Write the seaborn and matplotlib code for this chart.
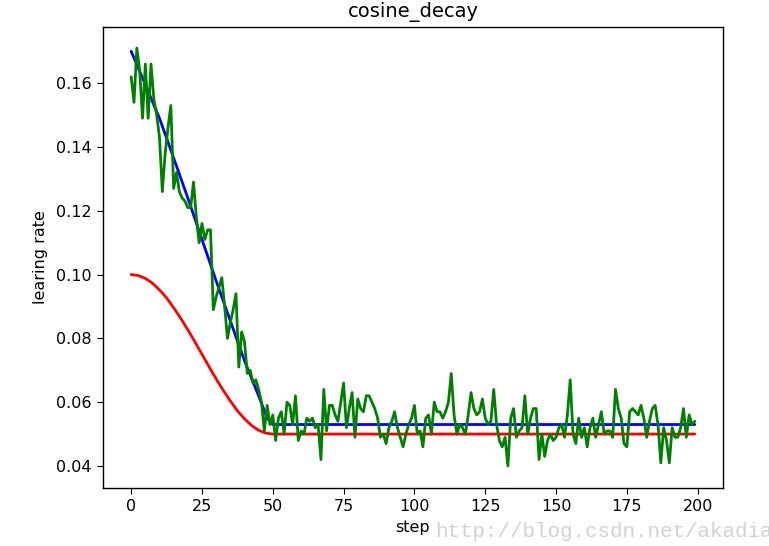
import matplotlib
matplotlib.use("Agg")
import matplotlib.pyplot as plt
import seaborn as sns
import pandas as pd

# ---- data ----
red_steps = [0, 2.5, 5, 7.5, 10, 12.5, 15, 17.5, 20, 22.5, 25, 27.5, 30, 32.5, 35,
             37.5, 40, 42.5, 45, 47.5, 50, 199]
red_vals = [0.1000, 0.0997, 0.0988, 0.0973, 0.0952, 0.0927, 0.0896, 0.0863, 0.0827,
            0.0789, 0.0750, 0.0711, 0.0673, 0.0637, 0.0604, 0.0573, 0.0548, 0.0527,
            0.0512, 0.0503, 0.0500, 0.0500]

blue_steps = [0, 10, 20, 30, 40, 45, 48, 50, 199]
blue_vals = [0.170, 0.149, 0.124, 0.098, 0.073, 0.062, 0.055, 0.053, 0.053]

green_vals = [
    0.162, 0.154, 0.171, 0.164, 0.149, 0.166, 0.149, 0.166, 0.155, 0.150,
    0.143, 0.126, 0.138, 0.146, 0.153, 0.127, 0.132, 0.126, 0.124, 0.123,
    0.121, 0.121, 0.129, 0.118, 0.110, 0.116, 0.111, 0.114, 0.114, 0.089,
    0.093, 0.096, 0.099, 0.090, 0.080, 0.085, 0.089, 0.094, 0.071, 0.082,
    0.079, 0.069, 0.070, 0.066, 0.067, 0.064, 0.060, 0.051, 0.059, 0.053,
    0.056, 0.048, 0.055, 0.057, 0.050, 0.060, 0.059, 0.053, 0.062, 0.048,
    0.051, 0.050, 0.055, 0.054, 0.055, 0.052, 0.053, 0.042, 0.064, 0.051,
    0.059, 0.059, 0.056, 0.054, 0.060, 0.066, 0.052, 0.058, 0.063, 0.049,
    0.061, 0.058, 0.057, 0.062, 0.062, 0.060, 0.058, 0.055, 0.049, 0.050,
    0.047, 0.052, 0.054, 0.057, 0.052, 0.049, 0.046, 0.050, 0.053, 0.055,
    0.059, 0.050, 0.051, 0.046, 0.055, 0.056, 0.050, 0.060, 0.057, 0.057,
    0.055, 0.057, 0.060, 0.069, 0.056, 0.050, 0.053, 0.052, 0.050, 0.056,
    0.063, 0.058, 0.056, 0.057, 0.061, 0.055, 0.053, 0.054, 0.064, 0.053,
    0.048, 0.046, 0.049, 0.040, 0.055, 0.058, 0.049, 0.051, 0.052, 0.062,
    0.050, 0.055, 0.058, 0.058, 0.042, 0.050, 0.043, 0.048, 0.050, 0.048,
    0.049, 0.052, 0.053, 0.049, 0.056, 0.067, 0.050, 0.047, 0.055, 0.049,
    0.052, 0.046, 0.052, 0.055, 0.049, 0.053, 0.057, 0.050, 0.051, 0.051,
    0.049, 0.064, 0.058, 0.055, 0.047, 0.046, 0.057, 0.058, 0.057, 0.056,
    0.059, 0.055, 0.049, 0.054, 0.058, 0.059, 0.053, 0.041, 0.052, 0.048,
    0.041, 0.052, 0.049, 0.049, 0.052, 0.058, 0.049, 0.056, 0.053, 0.054,
]
green_steps = list(range(len(green_vals)))

title = "cosine_decay"
xlabel = "step"
ylabel = "learing rate"
watermark = "http://blog.csdn.net/akadia"

# ---- plotting ----
sns.set_style("ticks")
plt.rcParams.update({
    "font.family": ["DejaVu Sans"],
    "text.color": "black",
    "axes.labelcolor": "black",
    "axes.edgecolor": "black",
    "xtick.color": "black",
    "ytick.color": "black",
    "axes.linewidth": 1.0,
    "xtick.major.size": 4.5,
    "ytick.major.size": 4.5,
})

fig = plt.figure(figsize=(7.69, 5.46), dpi=100)
ax = fig.add_axes([103 / 769, 1 - 488 / 546, (723 - 103) / 769, (488 - 27) / 546])

red_df = pd.DataFrame({"step": red_steps, "lr": red_vals})
blue_df = pd.DataFrame({"step": blue_steps, "lr": blue_vals})
green_df = pd.DataFrame({"step": green_steps, "lr": green_vals})

sns.lineplot(data=red_df, x="step", y="lr", ax=ax, color="red", lw=2.0)
sns.lineplot(data=blue_df, x="step", y="lr", ax=ax, color="blue", lw=2.0)
sns.lineplot(data=green_df, x="step", y="lr", ax=ax, color="green", lw=2.0)

ax.set_xlim(-9.95, 208.95)
ax.set_ylim(0.0331, 0.1776)
ax.set_xticks([0, 25, 50, 75, 100, 125, 150, 175, 200])
ax.set_yticks([0.04, 0.06, 0.08, 0.10, 0.12, 0.14, 0.16])
ax.set_yticklabels(["0.04", "0.06", "0.08", "0.10", "0.12", "0.14", "0.16"])
ax.tick_params(labelsize=11.5)
ax.set_title(title, fontsize=14, pad=7)
ax.set_xlabel(xlabel, fontsize=11.5, labelpad=4)
ax.set_ylabel(ylabel, fontsize=11.5, labelpad=6)
for s in ax.spines.values():
    s.set_visible(True)

fig.text(435 / 769, 1 - 537 / 546, watermark, fontsize=15, color="#d2d2d2",
         family=["Liberation Mono", "DejaVu Sans Mono"], va="baseline", ha="left")

fig.savefig("out.png", dpi=100)
